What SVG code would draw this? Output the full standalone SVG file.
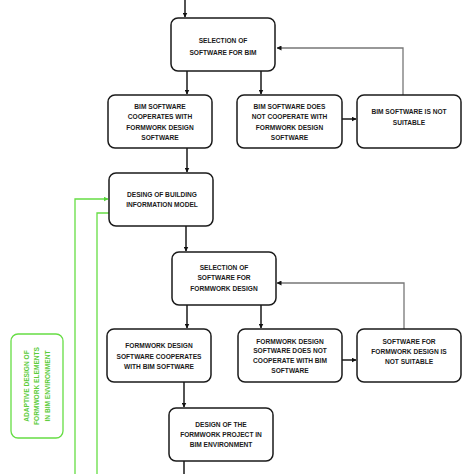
<svg xmlns="http://www.w3.org/2000/svg" width="474" height="474" viewBox="0 0 474 474">
<defs>
<marker id="ah" viewBox="0 0 10 10" refX="9" refY="5" markerWidth="5" markerHeight="5" orient="auto" markerUnits="userSpaceOnUse"><path d="M0,0 L10,5 L0,10 z" fill="#111"/></marker>
<marker id="ahg" viewBox="0 0 10 10" refX="9" refY="5" markerWidth="5" markerHeight="5" orient="auto" markerUnits="userSpaceOnUse"><path d="M0,0 L10,5 L0,10 z" fill="#55d43a"/></marker>
<style>
.box{fill:#fff;stroke:#1a1a1a;stroke-width:1.5}
.gbox{fill:#fff;stroke:#66dd44;stroke-width:1.3}
.t{font-family:"Liberation Sans",Arial,sans-serif;font-weight:bold;font-size:6.6px;fill:#1a1a1a;text-anchor:middle}
.gt{font-family:"Liberation Sans",Arial,sans-serif;font-weight:bold;font-size:6.6px;fill:#5ccc3a;text-anchor:middle}
.c{fill:none;stroke:#1a1a1a;stroke-width:1.5}
.cg{fill:none;stroke:#777;stroke-width:1.3}
.gl{fill:none;stroke:#66dd44;stroke-width:1.3}
</style>
</defs>
<rect width="474" height="474" fill="#fff"/>
<g id="connectors">
<path class="c" d="M185,0 V17" marker-end="url(#ah)"/>
<path class="c" d="M187,71 V94" marker-end="url(#ah)"/>
<path class="c" d="M261,71 V94" marker-end="url(#ah)"/>
<path class="c" d="M342,119 H356" marker-end="url(#ah)"/>
<path class="cg" d="M403,95 V48 H277" marker-end="url(#ah)"/>
<path class="c" d="M187,148 V172" marker-end="url(#ah)"/>
<path class="c" d="M186,226 V251" marker-end="url(#ah)"/>
<path class="c" d="M187,305 V328" marker-end="url(#ah)"/>
<path class="c" d="M261,305 V328" marker-end="url(#ah)"/>
<path class="c" d="M342,360 H356" marker-end="url(#ah)"/>
<path class="cg" d="M404,329 V283 H277" marker-end="url(#ah)"/>
<path class="c" d="M184,382 V407" marker-end="url(#ah)"/>
<path class="c" d="M184,461 V474"/>
<path class="gl" d="M75,474 V199 H108" marker-end="url(#ahg)"/>
<path class="gl" d="M97,474 V213 H109"/>
</g>
<g id="n1"><rect class="box" x="171" y="18" width="104" height="53" rx="7"/>
<text class="t" x="223" y="42.5">SELECTION OF</text><text class="t" x="223" y="54.5">SOFTWARE FOR BIM</text></g>
<g id="n2"><rect class="box" x="108" y="95" width="104" height="53" rx="7"/>
<text class="t" x="160" y="108.5">BIM SOFTWARE</text><text class="t" x="160" y="119">COOPERATES WITH</text><text class="t" x="160" y="129.5">FORMWORK DESIGN</text><text class="t" x="160" y="140">SOFTWARE</text></g>
<g id="n3"><rect class="box" x="237" y="95" width="105" height="53" rx="7"/>
<text class="t" x="289.5" y="108.5">BIM SOFTWARE DOES</text><text class="t" x="289.5" y="119">NOT COOPERATE WITH</text><text class="t" x="289.5" y="129.5">FORMWORK DESIGN</text><text class="t" x="289.5" y="140">SOFTWARE</text></g>
<g id="n4"><rect class="box" x="357" y="95" width="104" height="53" rx="7"/>
<text class="t" x="409" y="113.5">BIM SOFTWARE IS NOT</text><text class="t" x="409" y="124.5">SUITABLE</text></g>
<g id="n5"><rect class="box" x="109" y="173" width="104" height="53" rx="7"/>
<text class="t" x="162" y="197">DESING OF BUILDING</text><text class="t" x="162" y="207">INFORMATION MODEL</text></g>
<g id="n6"><rect class="box" x="172" y="252" width="104" height="53" rx="7"/>
<text class="t" x="224" y="269.5">SELECTION OF</text><text class="t" x="224" y="279.5">SOFTWARE FOR</text><text class="t" x="224" y="290.5">FORMWORK DESIGN</text></g>
<g id="n7"><rect class="box" x="107" y="329" width="104" height="53" rx="7"/>
<text class="t" x="159" y="347.5">FORMWORK DESIGN</text><text class="t" x="159" y="358.5">SOFTWARE COOPERATES</text><text class="t" x="159" y="368.5">WITH BIM SOFTWARE</text></g>
<g id="n8"><rect class="box" x="238" y="329" width="104" height="53" rx="7"/>
<text class="t" x="290" y="343.5">FORMWORK DESIGN</text><text class="t" x="290" y="353">SOFTWARE DOES NOT</text><text class="t" x="290" y="363">COOPERATE WITH BIM</text><text class="t" x="290" y="373">SOFTWARE</text></g>
<g id="n9"><rect class="box" x="357" y="329" width="104" height="53" rx="7"/>
<text class="t" x="409" y="343.5">SOFTWARE FOR</text><text class="t" x="409" y="353.5">FORMWORK DESIGN IS</text><text class="t" x="409" y="363.5">NOT SUITABLE</text></g>
<g id="n10"><rect class="box" x="169" y="408" width="104" height="53" rx="7"/>
<text class="t" x="221" y="426.5">DESIGN OF THE</text><text class="t" x="221" y="436.5">FORMWORK PROJECT IN</text><text class="t" x="221" y="446.5">BIM ENVIRONMENT</text></g>
<g id="n11"><rect class="gbox" x="11" y="334" width="52" height="104" rx="7"/>
<g transform="translate(37,386) rotate(-90)">
<text class="gt" x="0" y="-7.8">ADAPTIVE DESIGN OF</text><text class="gt" x="0" y="2.4">FORMWORK ELEMENTS</text><text class="gt" x="0" y="13.2">IN BIM ENVIRONMENT</text></g></g>
</svg>
